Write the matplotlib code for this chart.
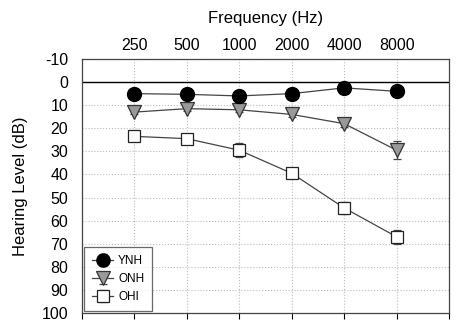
import matplotlib
matplotlib.use("Agg")
import matplotlib.pyplot as plt

plt.rcParams['font.family'] = ['Liberation Sans', 'DejaVu Sans']

freqs = ["250", "500", "1000", "2000", "4000", "8000"]
ynh = [5, 5.3, 6, 5, 2.5, 4]
ynh_err = [0.5, 0.5, 0.5, 0.5, 0.5, 0.5]
onh = [13, 11.5, 12, 14, 18, 29.5]
onh_err = [1, 1, 1, 1, 1.5, 4]
ohi = [23.5, 24.5, 29.5, 39.5, 54.5, 67]
ohi_err = [1.8, 1.8, 3, 2, 2.5, 3]
yticks = list(range(-10, 101, 10))

fig = plt.figure(figsize=(4.74, 3.22), dpi=100)
ax = fig.add_axes([82/474, 1-313/322, (449-82)/474, (313-59)/322])
x = list(range(1, len(freqs) + 1))

kw = dict(color="#444444", lw=0.9, capsize=3, elinewidth=0.9, capthick=0.9)
ax.errorbar(x, ohi, yerr=ohi_err, marker="s", ms=9, mfc="white", mec="#222222", mew=0.9, label="OHI", zorder=3, **kw)
ax.errorbar(x, onh, yerr=onh_err, marker="v", ms=10, mfc="#999999", mec="#333333", mew=0.9, label="ONH", zorder=4, **kw)
ax.errorbar(x, ynh, yerr=ynh_err, marker="o", ms=10, mfc="black", mec="black", label="YNH", zorder=5, **kw)

ax.axhline(0, color="black", lw=1.0, zorder=2)
ax.set_xlim(0, 7)
ax.set_ylim(100, -10)
ax.set_yticks(yticks)
ax.set_yticklabels([str(t) for t in yticks], fontsize=11.5)
ax.set_xticks(range(0, 8))
ax.tick_params(axis="x", which="both", bottom=True, labelbottom=False, top=False, direction="out", length=4)
ax.tick_params(axis="y", length=0, pad=10)
ax.grid(True, which="major", axis="y", color="#bbbbbb", ls=":", lw=0.8)
for xi in x:
    ax.axvline(xi, color="#bbbbbb", ls=":", lw=0.8, zorder=1)
    ax.text(xi, 1.055, freqs[xi-1], transform=ax.get_xaxis_transform(), ha="center", va="center", fontsize=11.5)
ax.text(0.5, 1.16, "Frequency (Hz)", transform=ax.transAxes, ha="center", va="center", fontsize=12)
ax.set_ylabel("Hearing Level (dB)", fontsize=12, labelpad=10)
for s in ax.spines.values():
    s.set_color("#444444")
    s.set_linewidth(0.9)

h, l = ax.get_legend_handles_labels()
order = [2, 1, 0]
leg = ax.legend([h[i] for i in order], [l[i] for i in order], loc="lower left", fontsize=8.5,
                frameon=True, fancybox=False, edgecolor="#444444", borderaxespad=0.15,
                handlelength=1.8, labelspacing=0.5, markerscale=0.95, borderpad=0.7, handletextpad=0.4)
leg.get_frame().set_linewidth(0.9)
fig.savefig("out.png", dpi=100)
